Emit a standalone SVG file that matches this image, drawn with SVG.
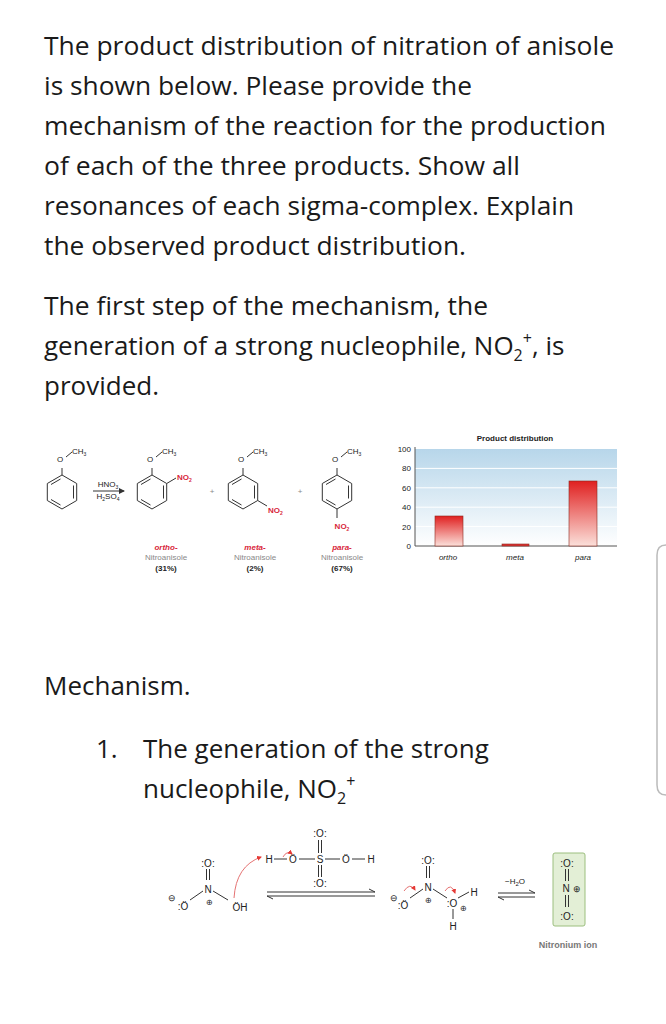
<svg xmlns="http://www.w3.org/2000/svg" width="666" height="1024" viewBox="0 0 666 1024">
<style>
.b{font-family:"Open Sans","Liberation Sans",sans-serif;font-size:26px;fill:#1a1a1a}
.s{font-family:"Liberation Sans",Arial,sans-serif;font-size:8px;fill:#222}
.m{font-family:"Liberation Sans",Arial,sans-serif;font-size:10px;fill:#222}
.r{fill:#d8263a}
.g{fill:#888}
.bd{stroke:#333;stroke-width:1;fill:none}
.ra{stroke:#e57373;stroke-width:1;fill:none}
</style>
<defs>
<linearGradient id="bg" x1="0" y1="0" x2="0" y2="1"><stop offset="0" stop-color="#b7d6ea"/><stop offset="1" stop-color="#ffffff"/></linearGradient>
<linearGradient id="bar" x1="0" y1="0" x2="0" y2="1"><stop offset="0" stop-color="#e02020"/><stop offset="1" stop-color="#fbe0da"/></linearGradient>
<marker id="ah" markerWidth="6" markerHeight="6" refX="5" refY="3" orient="auto"><path d="M0,0 L6,3 L0,6z" fill="#333"/></marker>
<marker id="rh" markerWidth="5" markerHeight="5" refX="4" refY="2.5" orient="auto"><path d="M0,0 L5,2.5 L0,5z" fill="#e53935"/></marker>
<g id="ring"><path class="bd" d="M0,-17 L14.7,-8.5 L14.7,8.5 L0,17 L-14.7,8.5 L-14.7,-8.5Z M11.5,-6.5 L11.5,6.5 M-11,-7.5 L-1.5,-13 M-1.5,13 L-11,7.5"/><path class="bd" d="M0,-17 L0,-24"/></g>
</defs>
<rect width="666" height="1024" fill="#fff"/>
<g id="question">
<text class="b" x="44" y="55" textLength="570" lengthAdjust="spacingAndGlyphs">The product distribution of nitration of anisole</text>
<text class="b" x="44" y="95" textLength="428" lengthAdjust="spacingAndGlyphs">is shown below. Please provide the</text>
<text class="b" x="44" y="135" textLength="562" lengthAdjust="spacingAndGlyphs">mechanism of the reaction for the production</text>
<text class="b" x="44" y="175" textLength="476" lengthAdjust="spacingAndGlyphs">of each of the three products. Show all</text>
<text class="b" x="44" y="215" textLength="530" lengthAdjust="spacingAndGlyphs">resonances of each sigma-complex. Explain</text>
<text class="b" x="44" y="255" textLength="422" lengthAdjust="spacingAndGlyphs">the observed product distribution.</text>
<text class="b" x="44" y="315" textLength="444" lengthAdjust="spacingAndGlyphs">The first step of the mechanism, the</text>
<text class="b" x="44" y="355">generation of a strong nucleophile, NO<tspan font-size="16" dy="6">2</tspan><tspan font-size="16" dy="-17">+</tspan><tspan dy="11">, is</tspan></text>
<text class="b" x="44" y="395">provided.</text>
</g>
<g id="anisole"><use href="#ring" x="62" y="492"/><text class="s" x="57" y="462">O</text><path class="bd" d="M66,457 L72,452"/><text class="s" x="72" y="454">CH<tspan font-size="5" dy="2">3</tspan></text></g>
<g id="reagent"><path class="bd" d="M93,491 L124,491" marker-end="url(#ah)"/><text class="s" x="108" y="487" text-anchor="middle" font-size="7">HNO<tspan font-size="5" dy="2">3</tspan></text><text class="s" x="108" y="499" text-anchor="middle" font-size="7">H<tspan font-size="5" dy="2">2</tspan><tspan dy="-2">SO</tspan><tspan font-size="5" dy="2">4</tspan></text></g>
<g id="ortho"><use href="#ring" x="152" y="492"/><text class="s" x="147" y="462">O</text><path class="bd" d="M156,457 L162,452"/><text class="s" x="162" y="454">CH<tspan font-size="5" dy="2">3</tspan></text><path class="bd" d="M166.7,483.5 L176,478"/><text class="s r" x="177" y="480" font-weight="bold">NO<tspan font-size="5" dy="2">2</tspan></text>
<text class="s r" x="166" y="550" text-anchor="middle" font-style="italic" font-weight="bold" font-size="7">ortho-</text><text class="s g" x="166" y="560" text-anchor="middle" font-size="7">Nitroanisole</text><text class="s" x="166" y="571" text-anchor="middle" font-size="7" font-weight="bold">(31%)</text></g>
<text class="s g" x="212" y="494" text-anchor="middle">+</text>
<g id="meta"><use href="#ring" x="243" y="492"/><text class="s" x="238" y="462">O</text><path class="bd" d="M247,457 L253,452"/><text class="s" x="253" y="454">CH<tspan font-size="5" dy="2">3</tspan></text><path class="bd" d="M257.7,500.5 L267,506"/><text class="s r" x="268" y="513" font-weight="bold">NO<tspan font-size="5" dy="2">2</tspan></text>
<text class="s r" x="255" y="550" text-anchor="middle" font-style="italic" font-weight="bold" font-size="7">meta-</text><text class="s g" x="255" y="560" text-anchor="middle" font-size="7">Nitroanisole</text><text class="s" x="255" y="571" text-anchor="middle" font-size="7" font-weight="bold">(2%)</text></g>
<text class="s g" x="300" y="494" text-anchor="middle">+</text>
<g id="para"><use href="#ring" x="337" y="492"/><text class="s" x="332" y="462">O</text><path class="bd" d="M341,457 L347,452"/><text class="s" x="347" y="454">CH<tspan font-size="5" dy="2">3</tspan></text><path class="bd" d="M337,509 L337,518"/><text class="s r" x="342" y="529" text-anchor="middle" font-weight="bold">NO<tspan font-size="5" dy="2">2</tspan></text>
<text class="s r" x="342" y="550" text-anchor="middle" font-style="italic" font-weight="bold" font-size="7">para-</text><text class="s g" x="342" y="560" text-anchor="middle" font-size="7">Nitroanisole</text><text class="s" x="342" y="571" text-anchor="middle" font-size="7" font-weight="bold">(67%)</text></g>
<g id="chart">
<rect x="415" y="449" width="202" height="97" fill="url(#bg)"/>
<g stroke="#fff" stroke-width="1"><path d="M415,468.4H617M415,487.8H617M415,507.2H617M415,526.6H617"/></g>
<path d="M415,447 V546 H617" stroke="#555" fill="none"/>
<text class="s" x="515" y="441" text-anchor="middle" font-weight="bold" fill="#666" font-size="9">Product distribution</text>
<g class="s" text-anchor="end" font-size="9"><text x="411" y="452">100</text><text x="411" y="471">80</text><text x="411" y="491">60</text><text x="411" y="510">40</text><text x="411" y="530">20</text><text x="411" y="549">0</text></g>
<rect x="435" y="516" width="28" height="30" fill="url(#bar)" stroke="#8a2a20" stroke-width="0.6"/>
<rect x="502" y="544" width="27" height="2" fill="#d33" stroke="#8a2a20" stroke-width="0.6"/>
<rect x="569" y="481" width="28" height="65" fill="url(#bar)" stroke="#8a2a20" stroke-width="0.6"/>
<g class="s" text-anchor="middle" font-style="italic" font-size="9"><text x="448" y="560">ortho</text><text x="515" y="560">meta</text><text x="583" y="560">para</text></g>
</g>
<text class="b" x="44" y="695">Mechanism.</text>
<text class="b" x="96" y="758">1.</text>
<text class="b" x="143" y="758">The generation of the strong</text>
<text class="b" x="143" y="798">nucleophile, NO<tspan font-size="16" dy="6">2</tspan><tspan font-size="16" dy="-17">+</tspan></text>
<g id="hno3" class="m">
<text x="208" y="867" text-anchor="middle">:O:</text><path class="bd" d="M206.5,869V880M209.5,869V880"/>
<text x="208" y="893" text-anchor="middle">N</text><text x="209" y="905" text-anchor="middle" font-size="8">⊕</text>
<path class="bd" d="M203,891 L190,900M213,891 L228,900"/>
<text x="183" y="910" text-anchor="middle">:Ö</text><text x="172" y="901" text-anchor="middle" font-size="9">⊖</text>
<text x="240" y="911" text-anchor="middle">ÖH</text>
<path class="ra" d="M234,898 Q236,866 261,857" marker-end="url(#rh)"/>
</g>
<g id="h2so4" class="m">
<text x="269" y="863" text-anchor="middle">H</text><path class="bd" d="M274,859H287M299,859H315M325,859H340M352,859H365"/>
<text x="293" y="863" text-anchor="middle">Ö</text><text x="320" y="863" text-anchor="middle">S</text><text x="346" y="863" text-anchor="middle">Ö</text><text x="371" y="863" text-anchor="middle">H</text>
<text x="320" y="837" text-anchor="middle">:O:</text><path class="bd" d="M318.5,840V853M321.5,840V853M318.5,865V877M321.5,865V877"/>
<text x="320" y="887" text-anchor="middle">:O:</text>
<path class="ra" d="M283,857 Q287,850 292,854" marker-end="url(#rh)"/>
</g>
<g id="eq1"><path class="bd" d="M267,892H375M375,892L369,889M267,896H375M267,896L273,899"/></g>
<g id="intermediate" class="m">
<text x="428" y="864" text-anchor="middle">:O:</text><path class="bd" d="M426.5,866V878M429.5,866V878"/>
<text x="428" y="891" text-anchor="middle">N</text><text x="428" y="903" text-anchor="middle" font-size="8">⊕</text>
<path class="bd" d="M423,889 L410,898M433,889 L447,898M458,898 L469,892M453,909V919"/>
<text x="403" y="909" text-anchor="middle">:Ö</text><text x="394" y="901" text-anchor="middle" font-size="9">⊖</text>
<text x="452" y="907" text-anchor="middle">:O</text><text x="463" y="911" text-anchor="middle" font-size="8">⊕</text>
<text x="474" y="896" text-anchor="middle">H</text><text x="453" y="930" text-anchor="middle">H</text>
<path class="ra" d="M404,891 Q410,882 415,890" marker-end="url(#rh)"/>
<path class="ra" d="M445,891 Q451,882 455,893" marker-end="url(#rh)"/>
</g>
<g id="eq2"><path class="bd" d="M498,893H535M535,893L529,890M498,897H535M498,897L504,900"/><text class="s" x="515" y="884" text-anchor="middle">−H<tspan font-size="6" dy="2">2</tspan><tspan dy="-2">O</tspan></text></g>
<g id="nitronium" class="m">
<rect x="553" y="853" width="32" height="73" rx="2" fill="#e3efd6" stroke="#9cbf7e"/>
<text x="567" y="867" text-anchor="middle">:O:</text><path class="bd" d="M565.5,869V881M568.5,869V881M565.5,895V907M568.5,895V907"/>
<text x="566" y="892" text-anchor="middle">N</text><text x="577" y="892" text-anchor="middle" font-size="9">⊕</text>
<text x="567" y="920" text-anchor="middle">:O:</text>
<text x="568" y="948" text-anchor="middle" font-weight="bold" fill="#777" font-size="9">Nitronium ion</text>
</g>
<path d="M666,545 Q657,545 657,555 V785 Q657,795 666,795" fill="none" stroke="#bbb" stroke-width="1.5"/>
</svg>
